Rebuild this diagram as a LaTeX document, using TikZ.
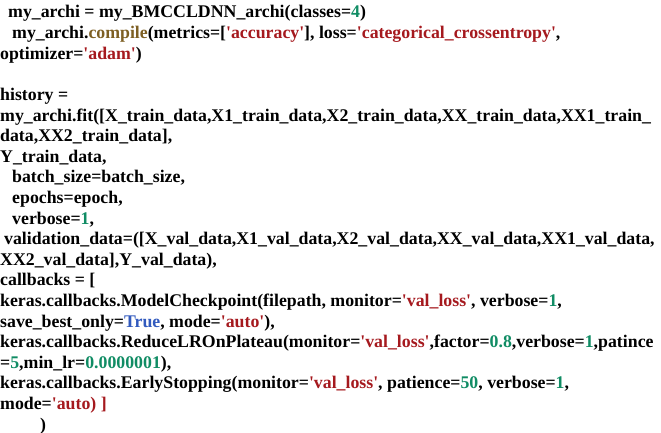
\documentclass[tikz,border=0pt]{standalone}
\usepackage{fontspec}
\newfontfamily\cf{Liberation Serif}
\definecolor{cg}{RGB}{16,140,100}
\definecolor{cr}{RGB}{165,25,30}
\definecolor{cb}{RGB}{50,90,190}
\definecolor{cc}{RGB}{125,95,35}
\newcommand{\G}[1]{\textcolor{cg}{#1}}
\newcommand{\R}[1]{\textcolor{cr}{#1}}
\begin{document}
\begin{tikzpicture}[x=1pt,y=1pt,
  ln/.style={anchor=base west,inner sep=0pt,font=\cf\fontsize{17.8}{20}\selectfont\bfseries}]
\useasboundingbox (0,0) rectangle (661,-433);
\def\b#1{-18-#1*20.6}
\node[ln] (l1) at (8,{\b{0}}) {my\_archi = my\_BMCCLDNN\_archi(classes=\G{4})};
\node[ln] (l2) at (12,{\b{1}}) {my\_archi.\textcolor{cc}{compile}(metrics=[\R{'accuracy'}], loss=\R{'categorical\_crossentropy'},};
\node[ln] (l3) at (0,{\b{2}}) {optimizer=\R{'adam'})};
\node[ln] (l5) at (0,{\b{4}}) {history =};
\node[ln] (l6) at (0,{\b{5}}) {my\_archi.fit([X\_train\_data,X1\_train\_data,X2\_train\_data,XX\_train\_data,XX1\_train\_};
\node[ln] (l7) at (0,{\b{6}}) {data,XX2\_train\_data],};
\node[ln] (l8) at (0,{\b{7}}) {Y\_train\_data,};
\node[ln] (l9) at (12,{\b{8}}) {batch\_size=batch\_size,};
\node[ln] (l10) at (12,{\b{9}}) {epochs=epoch,};
\node[ln] (l11) at (12,{\b{10}}) {verbose=\G{1},};
\node[ln] (l12) at (4,{\b{11}}) {validation\_data=([X\_val\_data,X1\_val\_data,X2\_val\_data,XX\_val\_data,XX1\_val\_data,};
\node[ln] (l13) at (0,{\b{12}}) {XX2\_val\_data],Y\_val\_data),};
\node[ln] (l14) at (0,{\b{13}}) {callbacks = [};
\node[ln] (l15) at (0,{\b{14}}) {keras.callbacks.ModelCheckpoint(filepath, monitor=\R{'val\_loss'}, verbose=\G{1},};
\node[ln] (l16) at (0,{\b{15}}) {save\_best\_only=\textcolor{cb}{True}, mode=\R{'auto'}),};
\node[ln] (l17) at (0,{\b{16}}) {keras.callbacks.ReduceLROnPlateau(monitor=\R{'val\_loss'},factor=\G{0.8},verbose=\G{1},patince};
\node[ln] (l18) at (0,{\b{17}}) {=\G{5},min\_lr=\G{0.0000001}),};
\node[ln] (l19) at (0,{\b{18}}) {keras.callbacks.EarlyStopping(monitor=\R{'val\_loss'}, patience=\G{50}, verbose=\G{1},};
\node[ln] (l20) at (0,{\b{19}}) {mode=\R{'auto) ]}};
\node[ln] (l21) at (40,{\b{20}}) {)};
\end{tikzpicture}
\end{document}
